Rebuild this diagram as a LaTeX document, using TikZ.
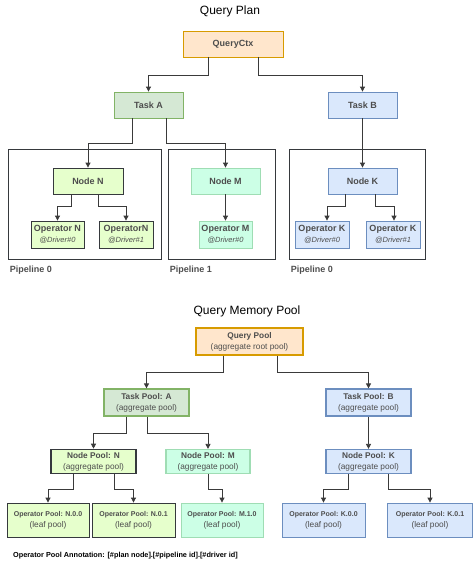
\documentclass[tikz,border=0pt]{standalone}
\usepackage{fontspec}
\setmainfont{Liberation Sans}
\usetikzlibrary{arrows.meta}
\definecolor{ctxfill}{HTML}{FFE6CC}
\definecolor{ctxline}{HTML}{D79B00}
\definecolor{taskfill}{HTML}{D5E8D4}
\definecolor{taskline}{HTML}{82B366}
\definecolor{kfill}{HTML}{DAE8FC}
\definecolor{kline}{HTML}{6C8EBF}
\definecolor{nfill}{HTML}{E6FFCC}
\definecolor{nline}{HTML}{36393D}
\definecolor{mfill}{HTML}{CCFFE6}
\definecolor{mline}{HTML}{9FDDB4}
\definecolor{boxtext}{HTML}{4D4D4D}
\definecolor{wirecol}{HTML}{3A3A3A}
\newcommand{\drv}[1]{\\{\fontsize{7.5}{9}\selectfont\mdseries\itshape @Driver\##1}}
\newcommand{\leafpool}[1]{{\fontsize{7}{9}\selectfont\bfseries Operator Pool: #1}\\(leaf pool)}

\begin{document}
\begin{tikzpicture}[
        x=1pt, y=-1pt,
        planbox/.style={rectangle, draw, line width=0.8pt, inner sep=0pt, align=center,
            text=boxtext, font=\fontsize{9}{11.5}\selectfont\bfseries, minimum height=26pt},
        poolbox/.style={rectangle, draw, line width=0.8pt, inner sep=0pt, align=center,
            text=boxtext, font=\fontsize{8.3}{11}\selectfont, minimum height=27pt},
        ctxcol/.style={fill=ctxfill, draw=ctxline},
        taskcol/.style={fill=taskfill, draw=taskline},
        kcol/.style={fill=kfill, draw=kline},
        ncol/.style={fill=nfill, draw=nline},
        mcol/.style={fill=mfill, draw=mline},
        pipe/.style={rectangle, draw=nline, line width=0.8pt, inner sep=0pt},
        pipelabel/.style={anchor=north west, inner sep=0pt, text=boxtext, font=\fontsize{9}{11}\selectfont\bfseries},
        title/.style={font=\fontsize{12}{14}\selectfont},
        wire/.style={draw=wirecol, line width=0.8pt, -{Triangle[width=5pt,length=5pt]}},
    ]
    \useasboundingbox (0,0) rectangle (474,568);

    % query plan
    \node[title] (plantitle) at (230,11) {Query Plan};
    \node[planbox, ctxcol, minimum width=100pt] (ctx) at (233,44) {QueryCtx};
    \node[planbox, taskcol, minimum width=69pt] (ta) at (148.5,105) {Task A};
    \node[planbox, kcol, minimum width=69pt] (tb) at (362.5,105) {Task B};

    \node[pipe, minimum width=153pt, minimum height=110pt] (pipe0) at (84.5,204) {};
    \node[pipe, minimum width=107pt, minimum height=110pt] (pipe1) at (221.5,204) {};
    \node[pipe, minimum width=136pt, minimum height=110pt] (pipe2) at (357,204) {};
    \node[pipelabel] (pl0) at ([xshift=2pt,yshift=-6pt]pipe0.south west) {Pipeline 0};
    \node[pipelabel] (pl1) at ([xshift=2pt,yshift=-6pt]pipe1.south west) {Pipeline 1};
    \node[pipelabel] (pl2) at ([xshift=2pt,yshift=-6pt]pipe2.south west) {Pipeline 0};

    \node[planbox, ncol, minimum width=70pt] (nn) at (88,181) {Node N};
    \node[planbox, mcol, minimum width=69pt] (nm) at (225.5,181) {Node M};
    \node[planbox, kcol, minimum width=69pt] (nk) at (362.5,181) {Node K};

    \node[planbox, ncol, minimum width=53pt, minimum height=27pt] (on0) at (57.5,234.5) {Operator N\drv{0}};
    \node[planbox, ncol, minimum width=54pt, minimum height=27pt] (on1) at (126,234.5) {OperatorN\drv{1}};
    \node[planbox, mcol, minimum width=53pt, minimum height=27pt] (om) at (225.5,234.5) {Operator M\drv{0}};
    \node[planbox, kcol, minimum width=54pt, minimum height=27pt] (ok0) at (322,234.5) {Operator K\drv{0}};
    \node[planbox, kcol, minimum width=54pt, minimum height=27pt] (ok1) at (393,234.5) {Operator K\drv{1}};

    \draw[wire] ([xshift=-25pt]ctx.south) -- ++(0,18) -| (ta.north);
    \draw[wire] ([xshift=25pt]ctx.south) -- ++(0,18) -| (tb.north);
    \draw[wire] ([xshift=-16.5pt]ta.south) -- ++(0,25) -| (nn.north);
    \draw[wire] ([xshift=17.5pt]ta.south) -- ++(0,25) -| (nm.north);
    \draw[wire] (tb.south) -- (nk.north);
    \draw[wire] ([xshift=-17pt]nn.south) -- ++(0,12) -| (on0.north);
    \draw[wire] ([xshift=10pt]nn.south) -- ++(0,12) -| (on1.north);
    \draw[wire] (nm.south) -- (om.north);
    \draw[wire] ([xshift=-17.5pt]nk.south) -- ++(0,12) -| ([xshift=5pt]ok0.north);
    \draw[wire] ([xshift=12.5pt]nk.south) -- ++(0,12) -| ([xshift=1pt]ok1.north);

    % query memory pool
    \node[title] (pooltitle) at (247,311) {Query Memory Pool};
    \node[poolbox, ctxcol, minimum width=107pt, line width=1.2pt] (qp) at (249.5,341.5) {\textbf{Query Pool}\\(aggregate root pool)};
    \node[poolbox, taskcol, minimum width=85pt, line width=1.2pt] (tpa) at (146.5,402.5) {\textbf{Task Pool: A}\\(aggregate pool)};
    \node[poolbox, kcol, minimum width=85pt, line width=1.2pt] (tpb) at (368.5,402.5) {\textbf{Task Pool: B}\\(aggregate pool)};

    \node[poolbox, ncol, minimum width=85pt, minimum height=24pt, line width=1.6pt] (npn) at (93.5,461.5) {\textbf{Node Pool: N}\\(aggregate pool)};
    \node[poolbox, mcol, minimum width=84pt, minimum height=24pt, line width=1.2pt] (npm) at (208,461.5) {\textbf{Node Pool: M}\\(aggregate pool)};
    \node[poolbox, kcol, minimum width=85pt, minimum height=24pt, line width=1.2pt] (npk) at (368.5,461.5) {\textbf{Node Pool: K}\\(aggregate pool)};

    \node[poolbox, ncol, minimum width=82pt, minimum height=34pt] (opn0) at (48,520) {\leafpool{N.0.0}};
    \node[poolbox, ncol, minimum width=83pt, minimum height=34pt] (opn1) at (133.5,520) {\leafpool{N.0.1}};
    \node[poolbox, mcol, minimum width=82pt, minimum height=34pt] (opm) at (222,520) {\leafpool{M.1.0}};
    \node[poolbox, kcol, minimum width=83pt, minimum height=34pt] (opk0) at (323.5,520) {\leafpool{K.0.0}};
    \node[poolbox, kcol, minimum width=85pt, minimum height=34pt] (opk1) at (430,520) {\leafpool{K.0.1}};

    \draw[wire] ([xshift=-26.5pt]qp.south) -- ++(0,17) -| (tpa.north);
    \draw[wire] ([xshift=27.5pt]qp.south) -- ++(0,17) -| (tpb.north);
    \draw[wire] ([xshift=-20.5pt]tpa.south) -- ++(0,17) -| (npn.north);
    \draw[wire] ([xshift=0.5pt]tpa.south) -- ++(0,17) -| (npm.north);
    \draw[wire] (tpb.south) -- (npk.north);
    \draw[wire] ([xshift=-20.5pt]npn.south) -- ++(0,15) -| (opn0.north);
    \draw[wire] ([xshift=20.5pt]npn.south) -- ++(0,15) -| (opn1.north);
    \draw[wire] (npm.south) -- ++(0,15) -| (opm.north);
    \draw[wire] ([xshift=-20.5pt]npk.south) -- ++(0,15) -| (opk0.north);
    \draw[wire] ([xshift=19.5pt]npk.south) -- ++(0,15) -| (opk1.north);

    \node[anchor=west, inner sep=0pt, font=\fontsize{7.3}{9}\selectfont\bfseries] (note) at (13,556)
        {Operator Pool Annotation: [\#plan node].[\#pipeline id].[\#driver id]};
\end{tikzpicture}
\end{document}
